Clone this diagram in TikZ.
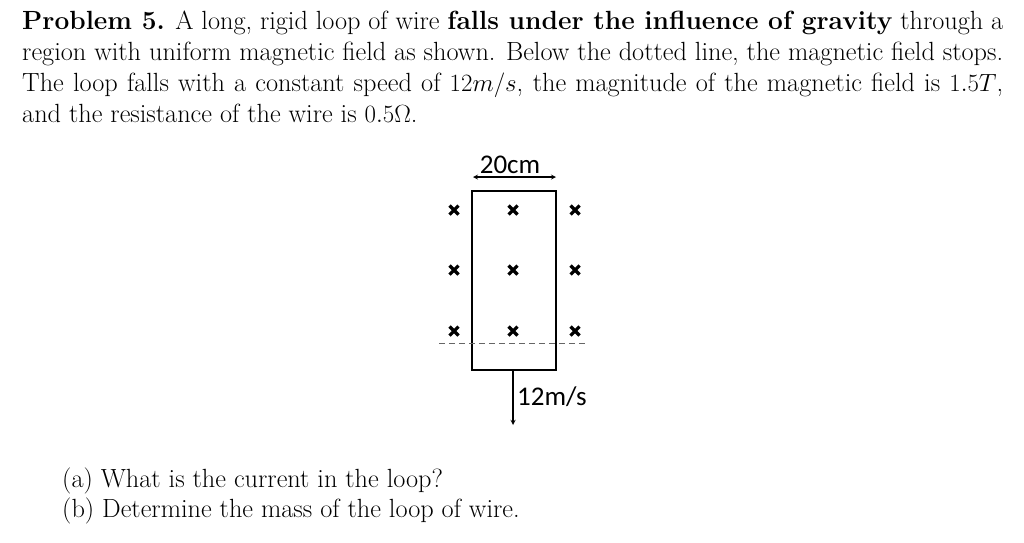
\documentclass[tikz,border=0pt]{standalone}
\usepackage{fontspec}
\usepackage{amsmath}
\newfontfamily\diagfont{Carlito}
\begin{document}
\begin{tikzpicture}[x=1pt,y=-1pt,
  cross/.style={line width=3.2pt},
  wire/.style={line width=2.5pt},
  lbl/.style={font=\diagfont\fontsize{27}{30}\selectfont, inner sep=0pt}]
\useasboundingbox (0,0) rectangle (1024,542);
\node[anchor=north west, inner sep=0pt, text width=981pt, align=justify] (txt) at (22,11)
 {\fontsize{26.3}{31}\selectfont \textbf{Problem 5.} A long, rigid loop of wire \textbf{falls under the influence of gravity} through a\linebreak region with uniform magnetic field as shown. Below the dotted line, the magnetic field stops.\linebreak The loop falls with a constant speed of $12m/s$, the magnitude of the magnetic field is $1.5T$,\linebreak and the resistance of the wire is $0.5\Omega$.\par};
\node[anchor=base west, inner sep=0pt] (qa) at (62,487) {\fontsize{26.3}{31}\selectfont (a) What is the current in the loop?};
\node[anchor=base west, inner sep=0pt] (qb) at (62,517) {\fontsize{26.3}{31}\selectfont (b) Determine the mass of the loop of wire.};
% loop
\draw[wire] (472,191) rectangle (556,370);
\coordinate (bot) at (513,370);
\coordinate (tip) at (513,425);
\draw[line width=1.3pt,-stealth] (bot) -- (tip);
\node[lbl, anchor=west] (v) at (517,397) {12m/s};
% dashed line
\coordinate (dl) at (439,343); \coordinate (dr) at (585,343);
\draw[line width=0.9pt, gray!80!black, dash pattern=on 6pt off 4pt] (dl) -- (dr);
% width arrow
\coordinate (wl) at (473,177); \coordinate (wr) at (556,177);
\draw[line width=1.2pt,stealth-stealth] (wl) -- (wr);
\node[lbl, anchor=base] (w) at (510,173) {20cm};
% crosses
\foreach \x in {454,513,575}{\foreach \y in {210,270,331}{
  \draw[cross] (\x-4.5,\y-4.5) -- (\x+4.5,\y+4.5) (\x-4.5,\y+4.5) -- (\x+4.5,\y-4.5);}}
\end{tikzpicture}
\end{document}
